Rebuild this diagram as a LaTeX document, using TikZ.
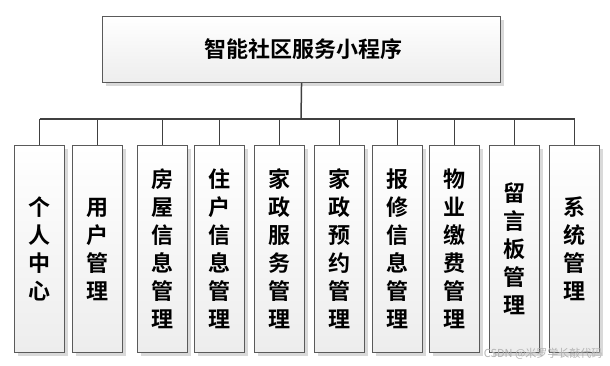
\documentclass[tikz,border=0pt]{standalone}
\usepackage{fontspec}
\newfontfamily\cjk{Noto Sans CJK SC}[BoldFont={* Bold}]
\usetikzlibrary{shadows}
\definecolor{edge}{HTML}{5A5A5A}
\definecolor{lnk}{HTML}{404040}
\definecolor{bot}{HTML}{EDEDED}
\tikzset{
  boxstyle/.style={draw=edge, line width=1.1pt, top color=white, bottom color=bot,
    drop shadow={shadow xshift=3pt, shadow yshift=-3pt, fill=black!15, opacity=1}},
  colbox/.style={boxstyle, minimum width=50pt, minimum height=207pt, anchor=north west, inner sep=0pt,
    font=\cjk\bfseries\fontsize{22pt}{28pt}\selectfont, align=center},
  linkline/.style={draw=lnk, line width=1.5pt}
}
\begin{document}
\begin{tikzpicture}[x=1pt,y=-1pt]
\useasboundingbox (0,0) rectangle (610,366);
\node[boxstyle, minimum width=398pt, minimum height=66pt, anchor=north west, inner sep=0pt,
  font=\cjk\bfseries\fontsize{22pt}{26pt}\selectfont] (root) at (102,16) {\hspace*{3pt}智能社区服务小程序};
\node[colbox] (b1) at (14,145) {个\\人\\中\\心};
\node[colbox] (b2) at (72,145) {用\\户\\管\\理};
\node[colbox] (b3) at (137,145) {房\\屋\\信\\息\\管\\理};
\node[colbox] (b4) at (194,145) {住\\户\\信\\息\\管\\理};
\node[colbox] (b5) at (254,145) {家\\政\\服\\务\\管\\理};
\node[colbox] (b6) at (314,145) {家\\政\\预\\约\\管\\理};
\node[colbox] (b7) at (372,145) {报\\修\\信\\息\\管\\理};
\node[colbox] (b8) at (429,145) {物\\业\\缴\\费\\管\\理};
\node[colbox] (b9) at (489,145) {留\\言\\板\\管\\理};
\node[colbox] (b10) at (549,145) {系\\统\\管\\理};
\coordinate (bus) at (301,119);
\draw[linkline] (root.south) -- (bus);
\draw[linkline] (b1.north |- bus) -- (b10.north |- bus);
\foreach \b in {b1,b2,b3,b4,b5,b6,b7,b8,b9,b10}
  \draw[linkline] (\b.north |- bus) -- (\b.north);
\node[font=\cjk\fontsize{11pt}{12pt}\selectfont, text=black!30, anchor=east] (wm) at (606,354) {CSDN @米罗学长敲代码};
\end{tikzpicture}
\end{document}
